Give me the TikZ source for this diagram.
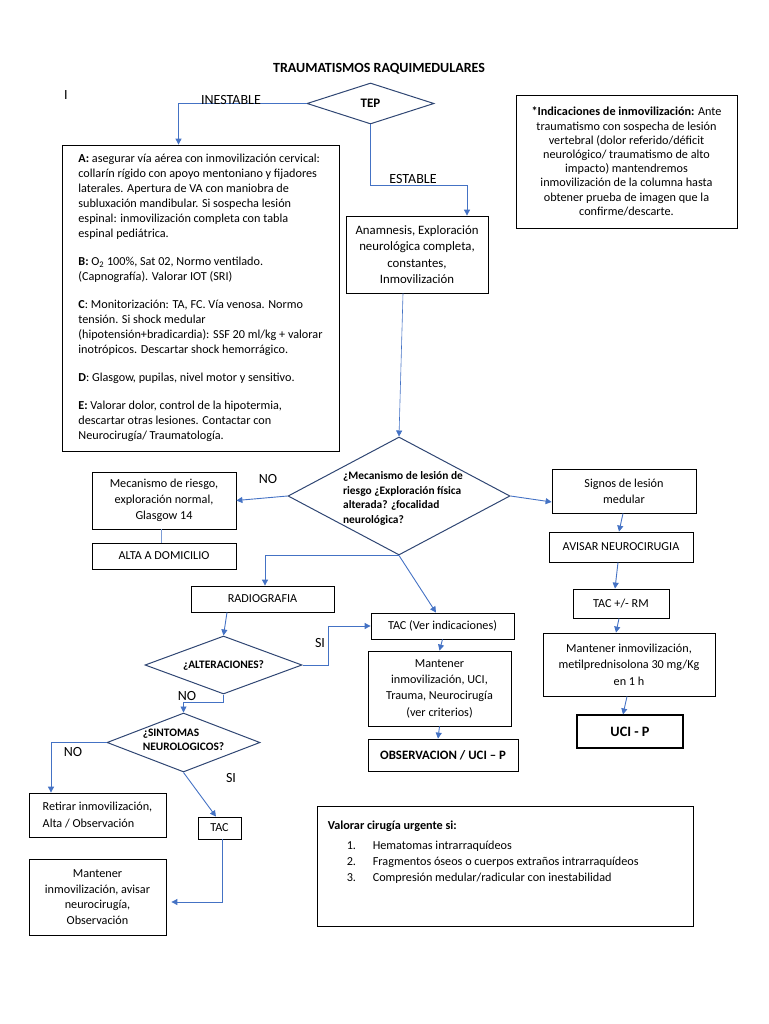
\documentclass[tikz,border=0pt]{standalone}
\usepackage{fontspec}
\setmainfont{Carlito}
\usetikzlibrary{shapes.geometric,arrows.meta}

\definecolor{flowblue}{RGB}{68,114,196}
\definecolor{navy}{RGB}{47,70,115}

\tikzset{
  box/.style={draw, line width=0.8pt, inner sep=0pt, align=center, font=\fontsize{12.2}{16.3}\selectfont},
  decision/.style={diamond, draw=navy, line width=1pt, inner sep=0pt, align=center, font=\bfseries\fontsize{11.4}{14.5}\selectfont},
  dtext/.style={font=\bfseries\fontsize{11.4}{14.5}\selectfont, align=left},
  arr/.style={draw=flowblue, line width=0.9pt, -{Triangle[length=6pt,width=6pt]}},
  plain/.style={draw=flowblue!70, line width=0.9pt},
  tag/.style={font=\fontsize{14}{16}\selectfont}
}

\begin{document}
\begin{tikzpicture}[x=1pt,y=-1pt]
\useasboundingbox (0,0) rectangle (768,1024);

\node[font=\bfseries\fontsize{14}{16}\selectfont] (title) at (379,69) {TRAUMATISMOS RAQUIMEDULARES};
\node[tag] (stray) at (66,95) {I};

\node[decision, aspect=3.1, minimum width=127pt, minimum height=41pt, font=\bfseries\fontsize{13}{15}\selectfont] (tep) at (370.5,103.5) {TEP};

\node[box, minimum width=277pt, minimum height=306pt, align=left, font=\fontsize{12.2}{15}\selectfont] (abox) at (200.5,298) {%
\textbf{A:} asegurar vía aérea con inmovilización cervical:\\
collarín rígido con apoyo mentoniano y fijadores\\
laterales. Apertura de VA con maniobra de\\
subluxación mandibular. Si sospecha lesión\\
espinal: inmovilización completa con tabla\\
espinal pediátrica.\\[13pt]
\textbf{B:} O\textsubscript{2} 100\%, Sat 02, Normo ventilado.\\
(Capnografía). Valorar IOT (SRI)\\[13pt]
\textbf{C}: Monitorización: TA, FC. Vía venosa. Normo\\
tensión. Si shock medular\\
(hipotensión+bradicardia): SSF 20 ml/kg + valorar\\
inotrópicos. Descartar shock hemorrágico.\\[13pt]
\textbf{D}: Glasgow, pupilas, nivel motor y sensitivo.\\[13pt]
\textbf{E:} Valorar dolor, control de la hipotermia,\\
descartar otras lesiones. Contactar con\\
Neurocirugía/ Traumatología.};

\node[box, minimum width=221pt, minimum height=133pt, font=\fontsize{12.2}{14.2}\selectfont] (indic) at (626.5,161.5) {%
\textbf{*Indicaciones de inmovilización:} Ante\\
traumatismo con sospecha de lesión\\
vertebral (dolor referido/déficit\\
neurológico/ traumatismo de alto\\
impacto) mantendremos\\
inmovilización de la columna hasta\\
obtener prueba de imagen que la\\
confirme/descarte.};

\node[box, minimum width=142pt, minimum height=77pt, font=\fontsize{12.8}{16.5}\selectfont] (anam) at (417,254.5) {Anamnesis, Exploración\\ neurológica completa,\\ constantes,\\ Inmovilización};

\node[decision, aspect=1.88, minimum width=222pt, minimum height=118pt,
  label={[dtext, xshift=4pt, yshift=-2.5pt]center:{¿Mecanismo de lesión de\\ riesgo ¿Exploración física\\ alterada? ¿focalidad\\ neurológica?}}] (cmech) at (399,496) {};

\node[box, minimum width=144pt, minimum height=57pt] (mbox) at (164,500.5) {Mecanismo de riesgo,\\ exploración normal,\\ Glasgow 14};
\node[box, minimum width=144pt, minimum height=26pt] (alta) at (164,556) {ALTA A DOMICILIO};

\node[box, minimum width=144pt, minimum height=44pt] (signos) at (624,491) {Signos de lesión\\ medular};
\node[box, minimum width=144pt, minimum height=30pt] (avisar) at (621,547) {AVISAR NEUROCIRUGIA};
\node[box, minimum width=96pt, minimum height=29pt] (tacrm) at (621,603.5) {TAC +/- RM};
\node[box, minimum width=172pt, minimum height=63pt] (mantrm) at (629,664.5) {Mantener inmovilización,\\ metilprednisolona 30 mg/Kg\\ en 1 h};
\node[box, minimum width=106pt, minimum height=33pt, line width=1.1pt, font=\bfseries\fontsize{14.3}{16}\selectfont] (ucip) at (630,731.5) {UCI - P};

\node[box, minimum width=143pt, minimum height=26pt] (radio) at (262.5,599) {RADIOGRAFIA};
\node[box, minimum width=143pt, minimum height=26pt] (tacver) at (442.5,626) {TAC (Ver indicaciones)};
\node[box, minimum width=143pt, minimum height=75pt] (mantver) at (439.5,688.5) {Mantener\\ inmovilización, UCI,\\ Trauma, Neurocirugía\\ (ver criterios)};
\node[box, minimum width=150pt, minimum height=32pt, font=\bfseries\fontsize{12.8}{14}\selectfont] (obs) at (443,755) {OBSERVACION / UCI -- P};

\node[decision, aspect=2.7, minimum width=157pt, minimum height=58pt] (alter) at (223.5,665) {¿ALTERACIONES?};
\node[decision, aspect=2.6, minimum width=153pt, minimum height=59pt,
  label={[dtext, yshift=2.5pt]center:{¿SINTOMAS\\ NEUROLOGICOS?}}] (sint) at (183.5,742.5) {};

\node[box, minimum width=137pt, minimum height=44pt, align=left] (retirar) at (97.5,815) {Retirar inmovilización,\\ Alta / Observación};
\node[box, minimum width=43pt, minimum height=22pt] (tac) at (219.5,828) {TAC};
\node[box, minimum width=137pt, minimum height=76pt, font=\fontsize{12.2}{15.7}\selectfont] (mantneu) at (97.5,897) {Mantener\\ inmovilización, avisar\\ neurocirugía,\\ Observación};

\node[box, minimum width=376pt, minimum height=120pt] (valbox) at (505,866) {};
\node[anchor=north west, align=left, inner sep=0pt, font=\fontsize{12.2}{16}\selectfont] (valtxt) at ([shift={(11,15)}]valbox.north west) {%
\textbf{Valorar cirugía urgente si:}\\[4pt]
\hspace*{19pt}\makebox[26pt][l]{1.}Hematomas intrarraquídeos\\
\hspace*{19pt}\makebox[26pt][l]{2.}Fragmentos óseos o cuerpos extraños intrarraquídeos\\
\hspace*{19pt}\makebox[26pt][l]{3.}Compresión medular/radicular con inestabilidad};

\draw[arr] (tep.west) -| ([xshift=-22pt]abox.north);
\node[tag] (inest) at (231,100) {INESTABLE};
\draw[arr] (tep.south) -- (tep.south |- 0,185) -| ([xshift=50pt]anam.north);
\node[tag] (estab) at (413,179) {ESTABLE};

\draw[arr, line width=0.6pt] ([xshift=-14pt]anam.south) -- (cmech.north);
\draw[arr] (cmech.west) -- (mbox.east);
\node[tag] (no1) at (268,479) {NO};
\draw[arr] (cmech.east) -- ([yshift=-11pt]signos.west);
\draw[plain] ([xshift=-3pt]mbox.south) -- ([xshift=-3pt]alta.north);

\draw[arr] ([xshift=-1pt]signos.south) -- ([xshift=-2pt]avisar.north);
\draw[arr] ([xshift=-3pt]avisar.south) -- ([xshift=-6pt]tacrm.north);
\draw[arr] ([xshift=-2pt]tacrm.south) -- ([xshift=-13pt]mantrm.north);
\draw[arr] ([xshift=-2pt]mantrm.south) -- ([xshift=-7pt]ucip.north);

\draw[arr] (cmech.south) -| ([xshift=2.5pt]radio.north);
\draw[arr] (cmech.south) -- ([xshift=-6.5pt]tacver.north);
\draw[arr] ([xshift=-35.5pt]radio.south) -- (alter.north);
\draw[arr] (alter.east) -- ++(26,0) |- (tacver.west);
\node[tag] (si1) at (320,643) {SI};
\draw[arr] (alter.south) -- ++(0,8) -| (sint.north);
\node[tag] (no2) at (187,696) {NO};
\draw[arr] (sint.west) -| ([xshift=-46.5pt]retirar.north);
\node[tag] (no3) at (73,752) {NO};
\draw[arr] (sint.south) -- ([xshift=-3.5pt]tac.north);
\node[tag] (si2) at (231,778) {SI};
\draw[arr] ([xshift=2.5pt]tac.south) |- ([xshift=5pt, yshift=-5pt]mantneu.east);

\draw[arr] (tacver.south) -- (mantver.north);
\draw[arr] (mantver.south) -- ([xshift=-5pt]obs.north);
\end{tikzpicture}
\end{document}
